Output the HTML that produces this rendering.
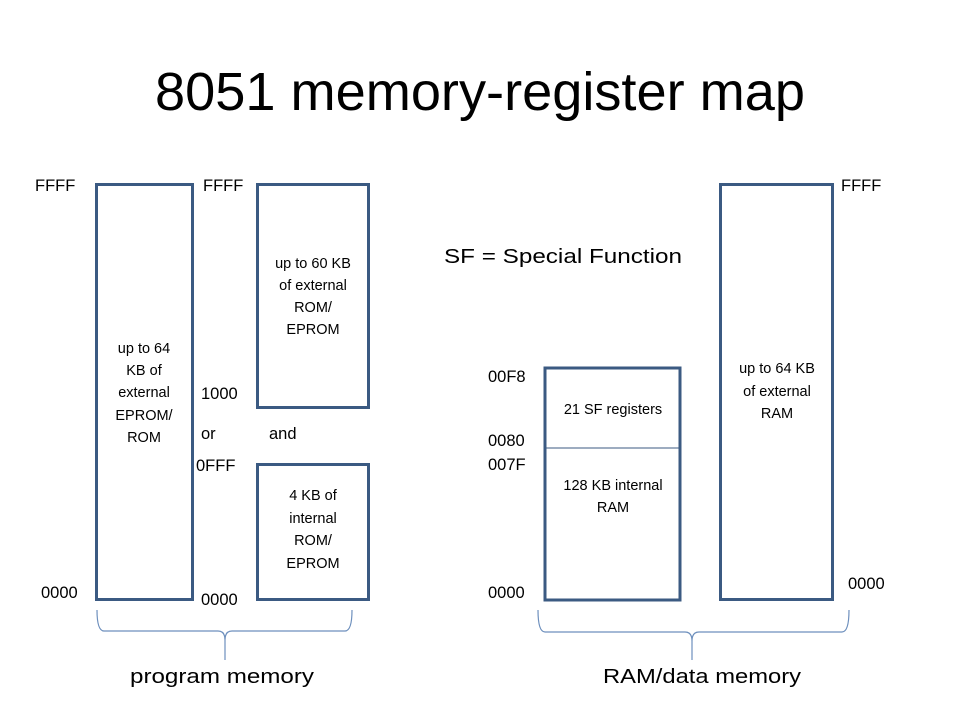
<!DOCTYPE html>
<html><head><meta charset="utf-8"><style>
html,body{margin:0;padding:0;background:#fff;}
svg{display:block;}
text{font-family:"Liberation Sans",sans-serif;fill:#000;}
</style></head><body>
<svg width="960" height="720" viewBox="0 0 960 720" xmlns="http://www.w3.org/2000/svg">
<text x="155" y="110" font-size="54" textLength="650" lengthAdjust="spacingAndGlyphs">8051 memory-register map</text>
<g fill="none" stroke="#3b5a82" stroke-width="3">
<rect x="96.5" y="184.5" width="96" height="415"/>
<rect x="257.5" y="184.5" width="111" height="223"/>
<rect x="257.5" y="464.5" width="111" height="135"/>
<rect x="545" y="368" width="135" height="232"/>
<rect x="720.5" y="184.5" width="112" height="415"/>
</g>
<line x1="546" y1="448" x2="679" y2="448" stroke="#3b5a82" stroke-width="1"/>
<g font-size="16.5">
<text x="35" y="191">FFFF</text>
<text x="203" y="191">FFFF</text>
<text x="841" y="191">FFFF</text>
<text x="41" y="598">0000</text>
<text x="201" y="605">0000</text>
<text x="201" y="399">1000</text>
<text x="201" y="439">or</text>
<text x="269" y="439">and</text>
<text x="196" y="471">0FFF</text>
<text x="488" y="382">00F8</text>
<text x="488" y="446">0080</text>
<text x="488" y="470">007F</text>
<text x="488" y="598">0000</text>
<text x="848" y="589">0000</text>
</g>
<text x="444" y="263" font-size="20" textLength="238" lengthAdjust="spacingAndGlyphs">SF = Special Function</text>
<g font-size="14.5" text-anchor="middle" fill="#222">
<text x="144" y="353">up to 64</text>
<text x="144" y="375">KB of</text>
<text x="144" y="397">external</text>
<text x="144" y="420">EPROM/</text>
<text x="144" y="442">ROM</text>
<text x="313" y="268">up to 60 KB</text>
<text x="313" y="290">of external</text>
<text x="313" y="312">ROM/</text>
<text x="313" y="334">EPROM</text>
<text x="313" y="500">4 KB of</text>
<text x="313" y="523">internal</text>
<text x="313" y="545">ROM/</text>
<text x="313" y="568">EPROM</text>
<text x="613" y="414">21 SF registers</text>
<text x="613" y="490">128 KB internal</text>
<text x="613" y="512">RAM</text>
<text x="777" y="373">up to 64 KB</text>
<text x="777" y="396">of external</text>
<text x="777" y="418">RAM</text>
</g>
<g fill="none" stroke="#6d8fbd" stroke-width="1.2">
<path d="M97,610 Q97,631 104,631 L218,631 Q225,631 225,640 L225,660 M225,640 Q225,631 232,631 L345,631 Q352,631 352,610"/>
<path d="M538,610 Q538,632 545,632 L685,632 Q692,632 692,641 L692,660 M692,641 Q692,632 699,632 L842,632 Q849,632 849,610"/>
</g>
<text x="130" y="683" font-size="20" textLength="184" lengthAdjust="spacingAndGlyphs">program memory</text>
<text x="603" y="683" font-size="20" textLength="198" lengthAdjust="spacingAndGlyphs">RAM/data memory</text>
</svg>
</body></html>
